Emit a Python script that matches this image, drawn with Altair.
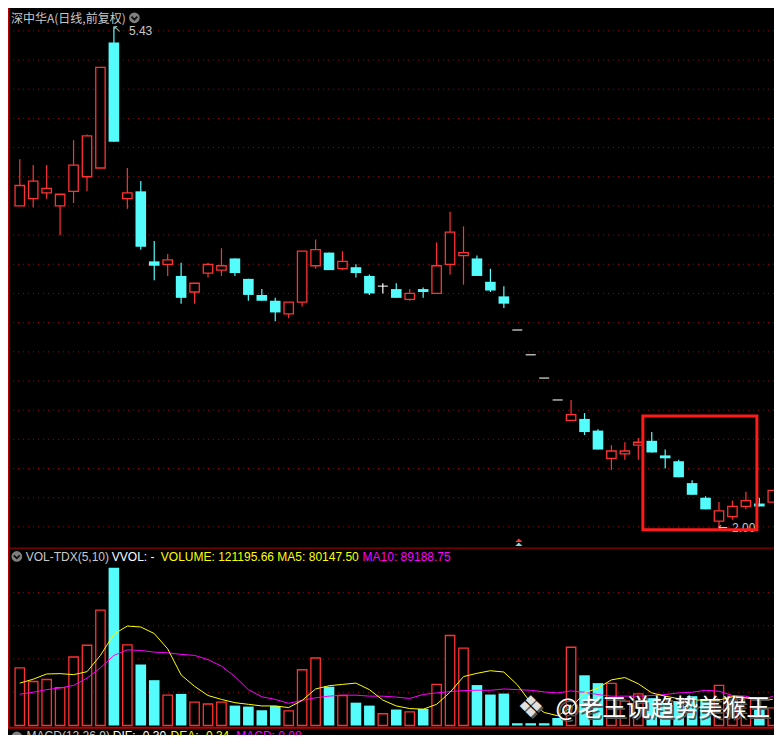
import altair as alt
import pandas as pd
import numpy as np

# ---------------- data ----------------
opens = [4.20, 4.25, 4.29, 4.20, 4.30, 4.40, 4.46, 5.32, 4.25, 4.30,
         3.82, 3.80, 3.72, 3.61, 3.74, 3.76, 3.84, 3.70, 3.59, 3.55,
         3.46, 3.54, 3.79, 3.88, 3.77, 3.78, 3.72, 3.65, 3.63, 3.56,
         3.63, 3.60, 3.80, 3.86, 3.84, 3.68, 3.58, 3.35, 3.18, 3.02,
         2.87, 2.73, 2.74, 2.66, 2.47, 2.50, 2.56, 2.59, 2.49, 2.45,
         2.30, 2.20, 2.04, 2.07, 2.14, 2.16, 2.17]
closes = [4.34, 4.37, 4.32, 4.28, 4.48, 4.68, 5.15, 4.64, 4.29, 3.92,
          3.79, 3.83, 3.57, 3.67, 3.80, 3.79, 3.74, 3.59, 3.55, 3.47,
          3.54, 3.89, 3.90, 3.76, 3.82, 3.74, 3.60, 3.65, 3.57, 3.60,
          3.61, 3.79, 4.02, 3.88, 3.72, 3.62, 3.53, 3.35, 3.18, 3.02,
          2.87, 2.77, 2.65, 2.53, 2.52, 2.52, 2.58, 2.51, 2.47, 2.34,
          2.22, 2.12, 2.11, 2.14, 2.18, 2.14, 2.25]
highs = [4.52, 4.48, 4.48, 4.28, 4.65, 4.69, 5.15, 5.43, 4.46, 4.37,
         3.96, 3.87, 3.81, 3.67, 3.81, 3.91, 3.84, 3.70, 3.63, 3.57,
         3.54, 3.89, 3.97, 3.88, 3.89, 3.80, 3.73, 3.67, 3.67, 3.63,
         3.64, 3.95, 4.16, 4.06, 3.86, 3.77, 3.65, 3.35, 3.18, 3.02,
         2.87, 2.87, 2.78, 2.67, 2.56, 2.58, 2.61, 2.65, 2.53, 2.46,
         2.32, 2.21, 2.17, 2.18, 2.24, 2.20, 2.25]
lows = [4.20, 4.19, 4.25, 4.00, 4.22, 4.30, 4.46, 4.64, 4.18, 3.90,
        3.69, 3.72, 3.53, 3.53, 3.71, 3.72, 3.72, 3.55, 3.55, 3.41,
        3.43, 3.51, 3.77, 3.76, 3.76, 3.71, 3.59, 3.60, 3.57, 3.55,
        3.57, 3.60, 3.73, 3.66, 3.72, 3.61, 3.50, 3.35, 3.18, 3.02,
        2.87, 2.73, 2.63, 2.53, 2.39, 2.46, 2.46, 2.51, 2.40, 2.34,
        2.22, 2.12, 2.00, 2.05, 2.12, 2.14, 2.17]
volumes = [177000, 135000, 141000, 116000, 210000, 246000, 354000, 484000, 247000, 187000,
           139000, 93000, 97000, 72000, 66000, 72000, 61000, 58000, 47000, 60000,
           45000, 171000, 207000, 119000, 92000, 70000, 61000, 36000, 49000, 42000,
           51000, 126000, 276000, 237000, 124000, 95000, 98000, 7000, 7000, 7000,
           23000, 240000, 154000, 130000, 129000, 75000, 97000, 84000, 66000, 75000,
           90000, 81000, 123000, 90000, 84000, 49000, 54000]
ma5 = [130000, 142000, 158000, 159000, 156000, 165000, 215000, 280000, 305000, 302000,
       282000, 235000, 155000, 120000, 92000, 80000, 70000, 65000, 60000, 60000,
       55000, 77000, 112000, 122000, 126000, 130000, 110000, 78000, 60000, 52000,
       50000, 65000, 102000, 150000, 160000, 168000, 164000, 125000, 70000, 40000,
       30000, 55000, 100000, 115000, 140000, 147000, 128000, 100000, 90000, 82000,
       78000, 78000, 78000, 88000, 85000, 80000, 80147.50]
ma10 = [96000, 102000, 110000, 115000, 123000, 145000, 177000, 215000, 232000, 230000,
        225000, 223000, 218000, 215000, 202000, 182000, 150000, 110000, 88000, 80000,
        68000, 77000, 85000, 90000, 93000, 93000, 90000, 90000, 87000, 83000,
        95000, 100000, 104000, 107000, 108000, 108000, 112000, 110000, 108000, 103000,
        100000, 106000, 102000, 95000, 90000, 90000, 90000, 92000, 95000, 100000,
        102000, 108000, 105000, 92000, 90000, 78000, 89188.75]
price_grid = [2.0, 2.2, 2.4, 2.6, 2.8, 3.0, 3.2, 3.4, 3.6, 3.8, 4.0, 4.2, 4.4, 4.6, 4.8, 5.0, 5.2, 5.4]
vol_grid = [102000, 204000, 306000, 408000]
box_x = [46.34, 54.82]   # highlighted region (candle index)
box_p = [1.98, 2.76]     # highlighted region (price)

title_text = "深中华A(日线,前复权)"
vol_header = [("VOL-TDX(5,10)", "#c8c8c8"), ("VVOL: -", "#ffffff"),
              ("VOLUME: 121195.66", "#ffff00"), ("MA5: 80147.50", "#ffff00"),
              ("MA10: 89188.75", "#ff00ff")]
macd_header = [("MACD(12,26,9)", "#c8c8c8"), ("DIF: -0.30", "#ffffff"),
               ("DEA: -0.34", "#ffff00"), ("MACD: 0.08", "#ff00ff")]
watermark = "@老王说趋势美猴王"

# ---------------- styling / layout ----------------
W, H = 766, 727
SX, SY = W / 782, H / 743
RED = "#ff3232"
CYAN = "#54fcfc"
GRID = "#a00000"
FRAME = "#b40000"
LAT = "Liberation Sans"
CJK = "Noto Sans CJK SC"

n = len(opens)
df = pd.DataFrame({"i": np.arange(n), "open": opens, "close": closes, "high": highs,
                   "low": lows, "vol": volumes, "ma5": ma5, "ma10": ma10})
df["dir"] = np.where(df.close > df.open, "up", np.where(df.close < df.open, "down", "flat"))
prev = df.close.shift(1).fillna(df.close)
df["vdir"] = np.where(df.close > df.open, "up",
                      np.where(df.close < df.open, "down",
                               np.where(df.close >= prev, "up", "down")))

xs = alt.Scale(domain=[-7 / 13.909, (782 - 7) / 13.909], nice=False, zero=False)
ps = alt.Scale(domain=[2 - (743 - 530.3) / 149.1, 2 + 530.3 / 149.1], nice=False, zero=False)
vs = alt.Scale(domain=[(733.3 - 743) * 3000, 733.3 * 3000], nice=False, zero=False)

X = alt.X("i:Q", scale=xs, axis=None)


def Yp(f):
    return alt.Y(f"{f}:Q", scale=ps, axis=None)


def Yv(f):
    return alt.Y(f"{f}:Q", scale=vs, axis=None)


base = alt.Chart(df)
one = pd.DataFrame({"k": [0]})


def txt(text, x, y, color, size=12, font=LAT, align="left", baseline="middle"):
    return alt.Chart(one).mark_text(text=text, color=color, fontSize=size, font=font,
                                    align=align, baseline=baseline).encode(
        x=alt.value(x * SX), y=alt.value(y * SY))


def icon(x, y):
    c = alt.Chart(one).mark_point(shape="circle", filled=True, color="#7f7f7f", size=115,
                                  opacity=1).encode(x=alt.value(x * SX), y=alt.value(y * SY))
    v = alt.Chart(one).mark_point(shape="M-0.55,-0.2L0,0.35L0.55,-0.2", filled=False,
                                  stroke="#101010", strokeWidth=1.8, size=115,
                                  opacity=1).encode(x=alt.value(x * SX), y=alt.value(y * SY))
    return [c, v]


layers = []

# grids
layers.append(alt.Chart(pd.DataFrame({"p": price_grid})).mark_rule(
    color=GRID, strokeDash=[1, 4], strokeWidth=1).encode(y=Yp("p"), x=alt.value(0), x2=alt.value(W)))
layers.append(alt.Chart(pd.DataFrame({"v": vol_grid})).mark_rule(
    color=GRID, strokeDash=[1, 4], strokeWidth=1).encode(y=Yv("v"), x=alt.value(0), x2=alt.value(W)))

# candles: wicks
for d, col in [("up", RED), ("down", CYAN), ("flat", "#ffffff")]:
    layers.append(base.transform_filter(f"datum.dir == '{d}'").mark_rule(
        color=col, strokeWidth=1.2, clip=True).encode(x=X, y=Yp("low"), y2="high:Q"))
# candles: bodies
layers.append(base.transform_filter("datum.dir == 'up'").mark_bar(
    size=9.4, fill="#000000", stroke=RED, strokeWidth=1.3, clip=True).encode(
    x=X, y=Yp("open"), y2="close:Q"))
layers.append(base.transform_filter("datum.dir == 'down'").mark_bar(
    size=10.6, color=CYAN, clip=True).encode(x=X, y=Yp("open"), y2="close:Q"))
layers.append(base.transform_filter("datum.dir == 'flat'").mark_tick(
    orient="horizontal", size=10, thickness=1.5, color="#ffffff", clip=True).encode(
    x=X, y=Yp("close")))

# volume bars
layers.append(base.transform_filter("datum.vdir == 'up'").mark_bar(
    size=9.4, fill="#000000", stroke=RED, strokeWidth=1.3, clip=True).encode(
    x=X, y=Yv("vol"), y2=alt.datum(0)))
layers.append(base.transform_filter("datum.vdir == 'down'").mark_bar(
    size=10.6, color=CYAN, clip=True).encode(x=X, y=Yv("vol"), y2=alt.datum(0)))
# volume MAs
layers.append(base.mark_line(color="#ff00ff", strokeWidth=1, clip=True).encode(x=X, y=Yv("ma10")))
layers.append(base.mark_line(color="#ffff00", strokeWidth=1, clip=True).encode(x=X, y=Yv("ma5")))

# high / low labels
imax = int(np.argmax(highs))
imin = int(np.argmin(lows))
hi = pd.DataFrame({"i": [imax], "p": [highs[imax]], "t": [f"{highs[imax]:.2f}"]})
lo = pd.DataFrame({"i": [imin], "p": [lows[imin]], "t": [f"{lows[imin]:.2f}"]})
layers.append(alt.Chart(hi).mark_text(text="↖", color="#c8c8c8", fontSize=10, font="DejaVu Sans",
                                      align="left", baseline="top", dx=-1, dy=-2).encode(x=X, y=Yp("p")))
layers.append(alt.Chart(hi).mark_text(color="#c8c8c8", fontSize=12, font=LAT,
                                      align="left", baseline="middle", dx=15, dy=5).encode(
    x=X, y=Yp("p"), text="t:N"))
layers.append(alt.Chart(lo).mark_text(text="←", color="#c8c8c8", fontSize=12, font="DejaVu Sans",
                                      align="left", baseline="middle", dx=-1, dy=0).encode(x=X, y=Yp("p")))
layers.append(alt.Chart(lo).mark_text(color="#c8c8c8", fontSize=12, font=LAT,
                                      align="left", baseline="middle", dx=13, dy=1).encode(
    x=X, y=Yp("p"), text="t:N"))

# highlight box
layers.append(alt.Chart(pd.DataFrame({"x0": [box_x[0]], "x1": [box_x[1]],
                                      "y0": [box_p[0]], "y1": [box_p[1]]})).mark_rect(
    fillOpacity=0, stroke="#ff1a1a", strokeWidth=3).encode(
    x=alt.X("x0:Q", scale=xs, axis=None), x2="x1:Q", y=Yp("y0"), y2="y1:Q"))

# frame lines
layers.append(alt.Chart(one).mark_rule(color=FRAME, strokeWidth=1.5).encode(
    x=alt.value(0.7), y=alt.value(0), y2=alt.value(736 * SY)))
layers.append(alt.Chart(one).mark_rule(color=FRAME, strokeWidth=1).encode(
    x=alt.value(0), x2=alt.value(W), y=alt.value(552 * SY)))
layers.append(alt.Chart(one).mark_rule(color=FRAME, strokeWidth=2).encode(
    x=alt.value(0), x2=alt.value(W), y=alt.value(735.5 * SY)))

# small marker at bottom of price panel
layers.append(alt.Chart(one).mark_point(shape="M-1,0.5L0,-0.5L1,0.5Z", filled=True, color=RED,
                                        size=49, opacity=1).encode(x=alt.value(521.5 * SX), y=alt.value(544 * SY)))
layers.append(alt.Chart(one).mark_point(shape="M-1,0.5L0,-0.5L1,0.5Z", filled=True, color="#7fd4d4",
                                        size=49, opacity=1).encode(x=alt.value(521.5 * SX), y=alt.value(548 * SY)))

# headers
layers.append(txt(title_text, 3, 11, "#c8c8c8", size=12, font=CJK))
layers += icon(129, 10)
layers += icon(9, 560.5)
hx = [18, 106, 156, 275, 362]
for (t, c), x in zip(vol_header, hx):
    layers.append(txt(t, x, 561, c))
layers += icon(9, 745)
mx = [19, 107, 166, 233]
for (t, c), x in zip(macd_header, mx):
    layers.append(txt(t, x, 738.5, c, baseline="top"))

# watermark
layers.append(txt("❖", 522, 717, "#555555", size=30, font="DejaVu Sans"))
layers.append(txt("❖", 520, 715, "#e0e0e0", size=30, font="DejaVu Sans"))
layers.append(txt(watermark, 561, 718, "#555555", size=24, font=CJK))
layers.append(txt(watermark, 559, 716, "#ffffff", size=24, font=CJK))

chart = alt.layer(*layers).resolve_scale(y="independent").properties(
    width=W, height=H, autosize=alt.AutoSizeParams(type="none"), padding=0,
    background="#000000").configure_view(strokeWidth=0)

chart.save("out.html", embed_options={"renderer": "svg", "actions": False})
